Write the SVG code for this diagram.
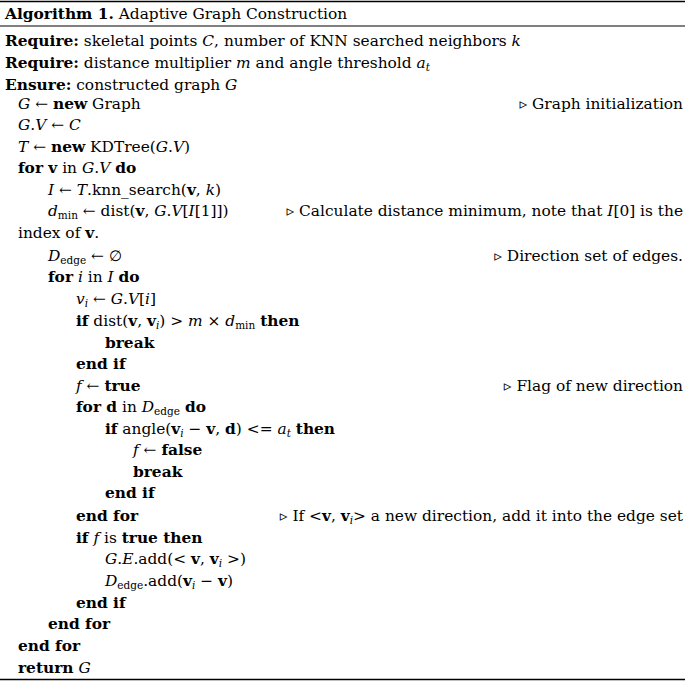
<svg xmlns="http://www.w3.org/2000/svg" width="685" height="681" viewBox="0 0 685 681">
<style>
text{font-family:"DejaVu Serif","Liberation Serif",serif;font-size:15.4px;fill:#000}
.b{font-weight:bold}
.i{font-style:italic}
.s{font-size:10.5px}
.r{text-anchor:end}
line{stroke:#000}
</style>
<rect width="685" height="681" fill="#fff"/>
<line x1="0" y1="1.5" x2="685" y2="1.5" stroke-width="1.5"/>
<line x1="0" y1="26" x2="685" y2="26" stroke-width="1"/>
<line x1="0" y1="679.5" x2="685" y2="679.5" stroke-width="1.5"/>
<text x="5" y="19"><tspan class="b">Algorithm 1.</tspan> Adaptive Graph Construction</text>
<text x="5" y="46"><tspan class="b">Require:</tspan> skeletal points <tspan class="i">C</tspan>, number of KNN searched neighbors <tspan class="i">k</tspan></text>
<text x="5" y="68"><tspan class="b">Require:</tspan> distance multiplier <tspan class="i">m</tspan> and angle threshold <tspan class="i">a</tspan><tspan class="i s" dy="3">t</tspan></text>
<text x="5" y="90"><tspan class="b">Ensure:</tspan> constructed graph <tspan class="i">G</tspan></text>
<text x="18" y="109"><tspan class="i">G</tspan> ← <tspan class="b">new</tspan> Graph</text>
<text x="683" y="109" class="r">▹ Graph initialization</text>
<text x="18" y="130"><tspan class="i">G</tspan>.<tspan class="i">V</tspan> ← <tspan class="i">C</tspan></text>
<text x="18" y="152"><tspan class="i">T</tspan> ← <tspan class="b">new</tspan> KDTree(<tspan class="i">G</tspan>.<tspan class="i">V</tspan>)</text>
<text x="18" y="173"><tspan class="b">for v</tspan> in <tspan class="i">G</tspan>.<tspan class="i">V</tspan>  <tspan class="b">do</tspan></text>
<text x="48" y="195"><tspan class="i">I</tspan> ← <tspan class="i">T</tspan>.knn_search(<tspan class="b">v</tspan>, <tspan class="i">k</tspan>)</text>
<text x="48" y="216"><tspan class="i">d</tspan><tspan class="s" dy="3">min</tspan><tspan dy="-3"> ← dist(</tspan><tspan class="b">v</tspan>, <tspan class="i">G</tspan>.<tspan class="i">V</tspan>[<tspan class="i">I</tspan>[1]])</text>
<text x="683" y="216" class="r">▹ Calculate distance minimum, note that <tspan class="i">I</tspan>[0] is the</text>
<text x="18" y="238">index of <tspan class="b">v</tspan>.</text>
<text x="48" y="261"><tspan class="i">D</tspan><tspan class="s" dy="3">edge</tspan><tspan dy="-3"> ← ∅</tspan></text>
<text x="683" y="261" class="r">▹ Direction set of edges.</text>
<text x="48" y="282"><tspan class="b">for</tspan> <tspan class="i">i</tspan> in <tspan class="i">I</tspan> <tspan class="b">do</tspan></text>
<text x="76" y="304"><tspan class="i">v</tspan><tspan class="i s" dy="3">i</tspan><tspan dy="-3"> ← </tspan><tspan class="i">G</tspan>.<tspan class="i">V</tspan>[<tspan class="i">i</tspan>]</text>
<text x="76" y="326"><tspan class="b">if</tspan> dist(<tspan class="b">v</tspan>, <tspan class="b">v</tspan><tspan class="i s" dy="3">i</tspan><tspan dy="-3">) &gt; </tspan><tspan class="i">m</tspan> × <tspan class="i">d</tspan><tspan class="s" dy="3">min</tspan><tspan dy="-3"> </tspan><tspan class="b">then</tspan></text>
<text x="105" y="348" class="b">break</text>
<text x="76" y="369" class="b">end if</text>
<text x="76" y="391"><tspan class="i">f</tspan> ← <tspan class="b">true</tspan></text>
<text x="683" y="391" class="r">▹ Flag of new direction</text>
<text x="76" y="412"><tspan class="b">for d</tspan> in <tspan class="i">D</tspan><tspan class="s" dy="3">edge</tspan><tspan dy="-3"> </tspan><tspan class="b">do</tspan></text>
<text x="105" y="434"><tspan class="b">if</tspan> angle(<tspan class="b">v</tspan><tspan class="i s" dy="3">i</tspan><tspan dy="-3"> − </tspan><tspan class="b">v</tspan>, <tspan class="b">d</tspan>) &lt;= <tspan class="i">a</tspan><tspan class="i s" dy="3">t</tspan><tspan dy="-3"> </tspan><tspan class="b">then</tspan></text>
<text x="133" y="455"><tspan class="i">f</tspan> ← <tspan class="b">false</tspan></text>
<text x="133" y="477" class="b">break</text>
<text x="105" y="498" class="b">end if</text>
<text x="76" y="521" class="b">end for</text>
<text x="683" y="521" class="r">▹ If &lt;<tspan class="b">v</tspan>, <tspan class="b">v</tspan><tspan class="i s" dy="3">i</tspan><tspan dy="-3">&gt; a new direction, add it into the edge set</tspan></text>
<text x="76" y="543"><tspan class="b">if</tspan> <tspan class="i">f</tspan> is <tspan class="b">true then</tspan></text>
<text x="105" y="564"><tspan class="i">G</tspan>.<tspan class="i">E</tspan>.add(&lt; <tspan class="b">v</tspan>, <tspan class="b">v</tspan><tspan class="i s" dy="3">i</tspan><tspan dy="-3"> &gt;)</tspan></text>
<text x="105" y="586"><tspan class="i">D</tspan><tspan class="s" dy="3">edge</tspan><tspan dy="-3">.add(</tspan><tspan class="b">v</tspan><tspan class="i s" dy="3">i</tspan><tspan dy="-3"> − </tspan><tspan class="b">v</tspan>)</text>
<text x="76" y="608" class="b">end if</text>
<text x="48" y="629" class="b">end for</text>
<text x="18" y="651" class="b">end for</text>
<text x="18" y="673"><tspan class="b">return</tspan> <tspan class="i">G</tspan></text>
</svg>
